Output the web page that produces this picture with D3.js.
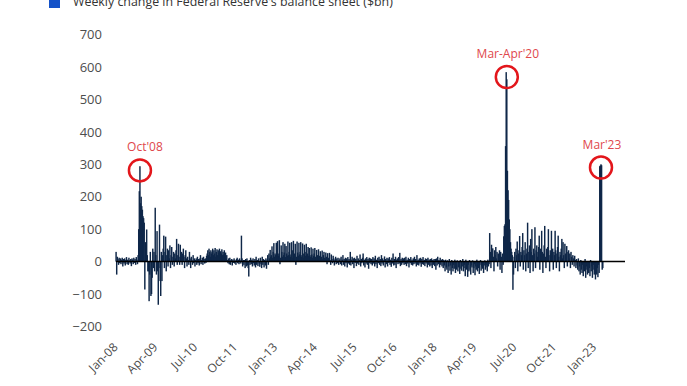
<!DOCTYPE html>
<meta charset="utf-8">
<style>
body { margin: 0; background: #fff; }
text { font-family: "Open Sans", sans-serif; }
.y-axis text { fill: #4d4d4d; font-size: 13px; }
.x-axis text { fill: #4d4d4d; font-size: 12px; }
.bar { fill: #0f2748; }
.zero { stroke: #000; stroke-width: 1.5px; }
.ring { fill: none; stroke: #e3161b; stroke-width: 2.5px; }
.note { fill: #e0474c; font-size: 12px; text-anchor: middle; }
</style>
<body>
<script src="https://d3js.org/d3.v7.min.js"></script>
<script>

// weekly change in the Fed balance sheet ($bn), one value per Wednesday
var w2008 = [30, -40, 15, 8, -10, 12, -5, 10, -8, 6, 12, -15, 8, -6, 10, -12, 5, 14, -8, 6, -10, 12, 4, -6, 8, -14, 10, 6, -8, 12, -4, 8, -10, 14, 6, -8, 20, 100, 217, 294, 180, 200, 171, 160, 140, 134, 120, -86, 60, 40, 99, 20, -30];
var w2009 = [-30, -122, -40, 30, -106, -100, -50, 40, -20, 30, -30, 166, 20, -40, 94, -30, -133, -60, 114, -20, -106, 30, -60, 20, 40, 80, -20, 30, 77, -30, 20, 40, -15, 35, 10, 50, -20, 20, 45, -10, 15, 30, -15, 25, 10, 35, 70, -10, 20, 55, 15, -10];
var w2010 = [52, 10, 30, -10, 25, 40, 15, -20, 20, 35, 10, -15, 15, 5, -10, 30, 10, -20, 15, 5, -10, 20, -5, 10, -15, 5, 10, -10, 15, -5, 8, -12, 10, 20, -8, 5, 12, -10, 15, 8, -6, 10, -4, 18, 25, 35, 20, 40, 30, 15, 35, 25];
var w2011 = [30, 40, 20, 35, 25, 42, 15, 30, 38, 20, 35, 28, 40, 18, 32, 25, 38, 20, 30, 22, 35, 15, 28, 10, 20, 5, -5, 10, -8, 12, -10, 5, 8, -12, 6, -4, 10, -6, 4, -10, 8, 12, -5, 6, -8, 10, 4, -6, 80, 10, -15, 5];
var w2012 = [-10, 5, -20, 8, -15, 10, -12, -20, -46, 5, -10, 12, -8, 6, -15, 10, -5, -12, 8, -18, 15, -10, 5, -14, 10, -6, -16, 12, -8, -20, 15, -10, 8, -18, 5, -12, 10, -22, 6, 20, -10, 25, 10, 36, 15, 20, 47, 12, 30, 57, 15, 25];
var w2013 = [20, 58, 15, 63, 25, 18, 66, -8, 12, 50, 30, 15, 60, 20, 28, 55, 14, 48, 25, 18, 62, 20, 30, 58, 15, 22, 60, 12, 35, 64, 18, 25, 55, -10, 15, 62, 28, 18, 58, 22, 30, 60, 15, 20, 56, 25, 12, 52, 30, 18, 55, 20];
var w2014 = [25, 45, 18, 42, 20, 15, 44, 22, 12, 40, 18, 25, 42, 15, 10, 36, 20, 15, 38, 12, 18, 32, 10, 15, 34, 8, 20, 30, 12, 10, 28, 15, -8, 26, 10, 12, 27, 5, -10, 22, 8, -5, 18, 10, -12, 6, 15, -8, 10, -5, 12, -10, 5];
var w2015 = [10, -8, 15, -12, 6, 20, -10, 8, -15, 12, -5, 10, -18, 14, -6, 8, -10, 30, -12, 6, 15, -8, 10, -20, 12, -4, 8, -14, 18, -6, 10, -10, 5, 22, -15, 8, -5, 12, 25, -12, 6, -18, 10, -6, 14, -10, 8, -22, 12, -5, 10, -8];
var w2016 = [8, -12, 14, -6, 10, -15, 18, -8, 6, -20, 12, -5, 15, -10, 8, -14, 20, -6, 10, -12, 5, 16, -18, 8, -8, 12, -15, 10, -4, 14, -10, 6, -16, 12, -6, 25, -12, 8, -10, 15, -20, 6, 10, -8, 14, -6, 27, -14, 8, -10, 12, -5];
var w2017 = [10, -10, 12, -8, 15, -14, 6, -6, 12, -18, 8, -5, 14, -10, 6, -12, 10, -8, 15, -6, 8, -15, 20, -10, 6, -12, 10, -6, 12, -16, 8, -8, 14, -10, 5, -14, 10, -6, 8, -18, 12, -10, 6, -15, 8, -12, 10, -20, 5, -10, 8, -14];
var w2018 = [8, -25, 10, -12, 15, -8, 5, -18, 12, -10, 6, -15, 8, -20, 5, -12, -30, 6, -18, -25, 4, -35, -15, 8, -28, -12, -40, 5, -20, -30, -10, -22, 6, -35, -15, -25, 4, -30, -18, -12, -38, 5, -22, -28, -15, 8, -30, -20, -10, -45, 6, -25];
var w2019 = [-20, -47, -10, -30, 5, -25, -40, -12, -18, 4, -35, -20, -8, -42, -15, -25, 6, -30, -12, -20, -38, -10, 5, -28, -15, -22, -8, -35, -12, 4, -25, -18, -10, -30, 6, -15, -8, 88, 30, -20, 52, 25, 41, 15, -30, 35, 20, 45, 10, 30, -15, 25];
var w2020 = [20, 35, -25, 30, 15, -35, 25, -10, 78, 110, 115, 356, 584, 562, 280, 220, 190, 130, 100, 60, 40, 30, 20, -87, -40, 15, 30, -20, 40, 20, 62, -30, 25, 35, 79, -15, 30, 20, 45, 88, -25, 35, 20, 60, -30, 25, 40, 120, -20, 30, 50, -35, 70];
var w2021 = [30, 100, 20, -30, 40, 25, 106, -20, 35, 50, 15, 30, 45, 80, -25, 40, 20, 95, 30, -35, 25, 50, 110, 15, -20, 40, 30, 45, 100, 20, -30, 35, 25, 95, 15, 40, -25, 30, 20, 95, 35, -20, 25, 45, 80, 15, -30, 30, 20, 40, 70, 10];
var w2022 = [60, 20, -20, 55, 25, 15, 48, -15, 30, 35, 10, 25, -20, 30, 15, -10, 20, 10, -15, 18, 5, -20, 8, -12, -25, 10, -30, -15, -40, 5, -25, -35, -10, -45, -20, -30, 8, -50, -15, -25, -40, -10, -35, -20, -45, 5, -30, -15, -50, -25, -10, -40];
var w2023 = [-30, -55, -15, -40, -20, -48, -10, -35, 294, 296, 300, 297, -25, -20];

var years = [2008, 2009, 2010, 2011, 2012, 2013, 2014, 2015, 2016, 2017, 2018, 2019, 2020, 2021, 2022, 2023];
var weekly = [w2008, w2009, w2010, w2011, w2012, w2013, w2014, w2015, w2016, w2017, w2018, w2019, w2020, w2021, w2022, w2023];

var yTicks = [-200, -100, 0, 100, 200, 300, 400, 500, 600, 700];
var xTicks = ["2008-01-01", "2009-04-01", "2010-07-01", "2011-10-01", "2013-01-01", "2014-04-01",
              "2015-07-01", "2016-10-01", "2018-01-01", "2019-04-01", "2020-07-01", "2021-10-01", "2023-01-01"];

var noteLabels = ["Oct'08", "Mar-Apr'20", "Mar'23"];
var noteDates = ["2008-10-01", "2020-04-01", "2023-03-15"];
var noteValues = [281, 569, 290];

var title = "Weekly change in Federal Reserve's balance sheet ($bn)";

// build the date/value rows
var parse = d3.timeParse("%Y-%m-%d");
var data = [];
years.forEach(function(yr, k) {
  var first = d3.timeWednesday.ceil(new Date(yr, 0, 1));
  weekly[k].forEach(function(v, i) {
    data.push({date: d3.timeDay.offset(first, 7 * i), value: v});
  });
});

var svg = d3.select("body").append("svg")
    .attr("width", 687)
    .attr("height", 386);

var x = d3.scaleTime()
    .domain([new Date(2008, 0, 1), new Date(2023, 11, 15)])
    .range([116, 625]);

var y = d3.scaleLinear()
    .domain([-200, 700])
    .range([326.5, 34.5]);

// title (mostly cut off at the top edge, as in the source)
svg.append("rect")
    .attr("x", 49).attr("y", -3)
    .attr("width", 11).attr("height", 11)
    .attr("fill", "#1452c8");
svg.append("text")
    .attr("x", 73).attr("y", 5.5)
    .attr("fill", "#333")
    .style("font-size", "12.4px")
    .text(title);

// y axis labels
var yAxis = svg.append("g")
    .attr("class", "y-axis")
    .attr("transform", "translate(102,0)")
    .call(d3.axisLeft(y).tickValues(yTicks).tickSize(0).tickPadding(0));
yAxis.select(".domain").remove();

// x axis labels, rotated
var xAxis = svg.append("g")
    .attr("class", "x-axis")
    .attr("transform", "translate(0,348)")
    .call(d3.axisBottom(x).tickValues(xTicks.map(parse))
        .tickFormat(d3.timeFormat("%b-%y")).tickSize(0));
xAxis.select(".domain").remove();
xAxis.selectAll("text")
    .attr("x", 0).attr("y", 0).attr("dy", 0)
    .attr("transform", "translate(2,0) rotate(-45)")
    .style("text-anchor", "end");

// bars
var bw = 1.45;
svg.append("g").selectAll("rect")
    .data(data)
  .enter().append("rect")
    .attr("class", "bar")
    .attr("x", function(d) { return x(d.date) - bw / 2; })
    .attr("width", bw)
    .attr("y", function(d) { return Math.min(y(d.value), y(0)); })
    .attr("height", function(d) { return Math.abs(y(d.value) - y(0)); });

// zero line
svg.append("line")
    .attr("class", "zero")
    .attr("x1", x.range()[0]).attr("x2", x.range()[1])
    .attr("y1", y(0)).attr("y2", y(0));

// annotations
var notes = noteLabels.map(function(l, i) {
  return {label: l, date: parse(noteDates[i]), value: noteValues[i]};
});
var ng = svg.append("g").selectAll("g")
    .data(notes)
  .enter().append("g")
    .attr("transform", function(d) { return "translate(" + x(d.date) + "," + y(d.value) + ")"; });
ng.append("circle")
    .attr("class", "ring")
    .attr("r", 11);
ng.append("text")
    .attr("class", "note")
    .attr("x", function(d, i) { return i == 0 ? 5 : 1; })
    .attr("y", -19)
    .text(function(d) { return d.label; });

</script>
</body>
